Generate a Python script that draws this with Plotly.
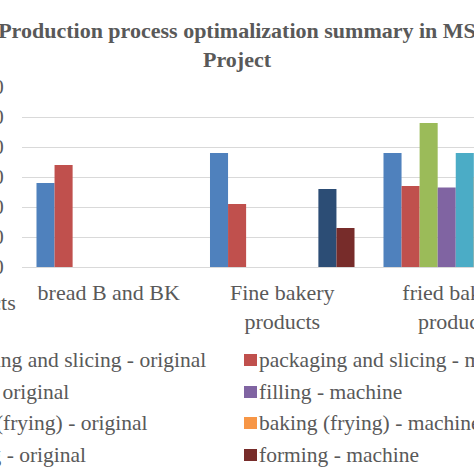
import plotly.graph_objects as go

categories = ["bread B and BK", "Fine bakery<br>products", "fried bakery<br>products"]
series_names = [
    "packaging and slicing - original", "packaging and slicing - machine",
    "filling - original", "filling - machine",
    "baking (frying) - original", "baking (frying) - machine",
    "forming - original", "forming - machine",
]
series_values = [
    [28, 38, 38],
    [34, 21, 27],
    [None, None, 48],
    [None, None, 26.5],
    [None, None, 38],
    [None, None, 30],
    [None, 26, None],
    [None, 13, None],
]
colors = ["#4F81BD", "#C0504D", "#9BBB59", "#8064A2", "#4BACC6", "#F79646", "#2C4D75", "#772C2A"]
y_ticks = [0, 10, 20, 30, 40, 50, 60]

FONT = "Liberation Serif"
GREY = "#595959"
W, H = 474, 474
L, T, B = 22, 87, 207
PW, PH = W - L, H - T - B
CAT_W = 173.5

fig = go.Figure()
for name, vals, col in zip(series_names, series_values, colors):
    fig.add_trace(go.Bar(x=categories, y=vals, name=name, marker=dict(color=col, line=dict(width=0)),
                         showlegend=False))

def px_x(px):
    return (px - L) / PW

def px_y(py):
    return (H - B - py) / PH

annotations = []
shapes = []
# column 1: visible right ends of the texts; column 2: text start
col1_right = [208, 71, 150, 88]
col2_left = 259
row_y = [360, 392, 423, 455]
for i, (name, col) in enumerate(zip(series_names, colors)):
    c, r = i % 2, i // 2
    ty = row_y[r]
    if c == 0:
        annotations.append(dict(x=px_x(col1_right[r]), y=px_y(ty), xref="paper", yref="paper", text=name,
                                showarrow=False, xanchor="right", yanchor="middle",
                                font=dict(family=FONT, size=21.5, color=GREY)))
    else:
        tx = col2_left
        annotations.append(dict(x=px_x(tx - 2), y=px_y(ty), xref="paper", yref="paper", text=name,
                                showarrow=False, xanchor="left", yanchor="middle",
                                font=dict(family=FONT, size=21.5, color=GREY)))
        shapes.append(dict(type="rect", xref="paper", yref="paper",
                           x0=px_x(tx - 15), x1=px_x(tx - 2), y0=px_y(ty + 6), y1=px_y(ty - 6),
                           fillcolor=col, line=dict(width=0)))

annotations.append(dict(x=px_x(18), y=px_y(302), xref="paper", yref="paper", text="products",
                        showarrow=False, xanchor="right", yanchor="middle",
                        font=dict(family=FONT, size=22, color=GREY)))

fig.update_layout(
    width=W, height=H,
    margin=dict(l=L, r=0, t=T, b=B, pad=0, autoexpand=False),
    paper_bgcolor="white", plot_bgcolor="white",
    barmode="group", bargap=0.167, bargroupgap=0,
    title=dict(text="<b>Production process optimalization summary in MS<br>Project</b>",
               x=0.5, xref="container", xanchor="center",
               y=1 - 38 / H, yref="container", yanchor="top",
               font=dict(family=FONT, size=22, color=GREY), automargin=False),
    xaxis=dict(type="category", range=[-0.5, -0.5 + PW / CAT_W], automargin=False,
               showline=True, linecolor="#D9D9D9", linewidth=1,
               ticks="outside", ticklen=6, tickcolor="rgba(0,0,0,0)",
               tickfont=dict(family=FONT, size=22, color=GREY)),
    yaxis=dict(range=[0, 60], tickvals=y_ticks, showgrid=True, gridcolor="#D9D9D9", gridwidth=1,
               automargin=False, zeroline=False, ticks="outside", ticklen=13, tickcolor="rgba(0,0,0,0)",
               tickfont=dict(family=FONT, size=21, color=GREY)),
    annotations=annotations, shapes=shapes,
)

fig.write_html("out.html")
